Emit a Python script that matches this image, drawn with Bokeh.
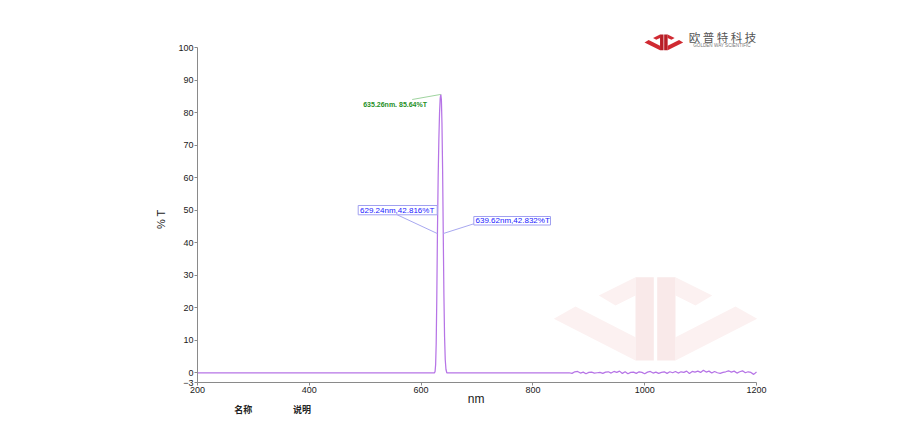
from bokeh.plotting import figure
from bokeh.models import Range1d, FixedTicker, LinearAxis
from bokeh.core.properties import value
from bokeh.embed import file_html
from bokeh.resources import INLINE

# ---------------- data ----------------
base_nm = [200, 300, 400, 500, 600, 624]
base_t = [0.0, 0.0, 0.0, 0.0, 0.0, 0.0]

peak_nm = [625, 626, 627, 628, 629.24, 630.5, 631.8, 633, 634.2, 635.26,
           636.3, 637.3, 638.5, 639.62, 640.8, 642, 643.2, 644.5, 646]
peak_t = [0.4, 2.5, 9.0, 22.0, 42.816, 60.0, 72.0, 80.0, 84.5, 85.64,
          84.0, 77.0, 62.0, 42.832, 24.0, 11.0, 4.0, 1.0, 0.0]

flat_nm = [700, 760, 820, 860]
flat_t = [0.0, 0.0, 0.0, 0.0]

noise_nm = [865, 870, 875, 880, 885, 890, 895, 900, 905, 910, 915, 920, 925,
            930, 935, 940, 945, 950, 955, 960, 965, 970, 975, 980, 985, 990,
            995, 1000, 1005, 1010, 1015, 1020, 1025, 1030, 1035, 1040, 1045,
            1050, 1055, 1060, 1065, 1070, 1075, 1080, 1085, 1090, 1095, 1100,
            1105, 1110, 1115, 1120, 1125, 1130, 1135, 1140, 1145, 1150, 1155,
            1160, 1165, 1170, 1175, 1180, 1185, 1190, 1195, 1200]
noise_t = [0.0, -0.2, 0.3, 0.4, -0.1, 0.2, -0.3, 0.1, 0.2, -0.1, 0.0, 0.1, -0.2,
           0.2, 0.3, -0.1, 0.4, 0.1, 0.5, -0.2, 0.3, -0.3, 0.1, 0.2, -0.2, 0.3,
           0.1, -0.3, 0.2, 0.4, -0.1, 0.2, -0.2, 0.1, 0.3, -0.2, 0.3,
           0.0, 0.4, -0.1, 0.3, 0.1, 0.5, -0.2, 0.4, 0.2, 0.5, 0.1,
           0.8, 0.2, 0.5, -0.1, 0.4, 0.0, -0.2, 0.1, 0.3, 0.6, 0.2,
           0.5, -0.1, 0.3, 0.6, 0.0, 0.3, 0.1, -0.5, 0.2]

x_ticks = [200, 400, 600, 800, 1000, 1200]
y_ticks = [-3, 0, 10, 20, 30, 40, 50, 60, 70, 80, 90, 100]
legend_ticks = [282, 387]
legend_names = ["名称", "说明"]

peak_mark = (635.26, 85.64, "635.26nm. 85.64%T")
left_mark = (629.24, 42.816, "629.24nm,42.816%T")
right_mark = (639.62, 42.832, "639.62nm,42.832%T")

brand_cn = ["欧", "普", "特", "科", "技"]
brand_en = "GOLDEN WAY SCIENTIFIC"

wavelength = base_nm + peak_nm + flat_nm + noise_nm
transmit = base_t + peak_t + flat_t + noise_t

# ---------------- layout helpers (page pixel -> data) ----------------
PX_NM = 0.559
PX_T = 3.25


def nx(px):
    return 200 + (px - 197) / PX_NM


def ty(py):
    return (372.25 - py) / PX_T


FONT = value("Liberation Sans")

p = figure(width=908, height=432,
           x_range=Range1d(200, 200 + 564 / PX_NM),
           y_range=Range1d(-3, -3 + 354 / PX_T),
           output_backend="svg", toolbar_location=None,
           min_border_left=197, min_border_right=147,
           min_border_top=28, min_border_bottom=50)
p.outline_line_color = None
p.xgrid.visible = False
p.ygrid.visible = False
p.background_fill_color = "white"
p.border_fill_color = "white"

# ---------------- logos ----------------
BAR_L = [(85, 6.7), (103.3, 6.7), (103.3, 90), (85, 90)]
ARM_UP_L = [(48.3, 25), (85, 6.7), (85, 25), (65, 35)]
ARM_LOW_L = [(3.3, 48.3), (25, 36), (85, 66.7), (85, 90)]


def mirror(poly):
    return [(210 - u, v) for (u, v) in poly]


def logo(ox, oy, s, bar_col, arm_col):
    xs, ys, cols = [], [], []
    for poly, col in [(ARM_UP_L, arm_col), (ARM_LOW_L, arm_col), (BAR_L, bar_col),
                      (mirror(ARM_UP_L), arm_col), (mirror(ARM_LOW_L), arm_col),
                      (mirror(BAR_L), bar_col)]:
        xs.append([nx(ox + u * s) for (u, v) in poly])
        ys.append([ty(oy + v * s) for (u, v) in poly])
        cols.append(col)
    p.patches(xs, ys, fill_color=cols, line_color=None)


logo(550, 270, 1.0, "#f9e9e9", "#fcf1f1")
logo(643.4, 32.7, 0.19, "#b81e26", "#d02a32")

p.text([nx(694 + 14 * i) for i in range(len(brand_cn))], [ty(36.5)] * len(brand_cn),
       text=brand_cn, text_font=value("Noto Sans CJK SC"),
       text_font_size="11.5px", text_color="#555555", text_align="center",
       text_baseline="middle")
p.text([nx(721.5)], [ty(44.8)], text=[brand_en], text_font=FONT,
       text_font_size="4.6px", text_color="#777777", text_align="center",
       text_baseline="middle")

# ---------------- spectrum ----------------
p.line(wavelength, transmit, line_color="#b674e6", line_width=1.25)

# ---------------- annotations ----------------
# peak (green)
p.segment([nx(411.7)], [ty(99)], [peak_mark[0]], [peak_mark[1]],
          line_color="#9fd49f", line_width=1)
p.text([nx(362.7)], [ty(103.5)], text=[peak_mark[2]], text_font=FONT,
       text_font_size="7px", text_font_style="bold", text_color="#1f8f1f",
       text_align="left", text_baseline="middle")

# half-height left
p.segment([nx(396.7)], [ty(214.3)], [left_mark[0]], [left_mark[1]],
          line_color="#a8a8f0", line_width=1)
p.quad(left=[nx(357.7)], right=[nx(436.7)], top=[ty(205)], bottom=[ty(214.3)],
       fill_color="white", line_color="#a0a0f0", line_width=1)
p.text([nx(359.5)], [ty(209.8)], text=[left_mark[2]], text_font=FONT,
       text_font_size="8px", text_color="#2020ff", text_align="left",
       text_baseline="middle")

# half-height right
p.segment([nx(473.3)], [ty(223.3)], [right_mark[0]], [right_mark[1]],
          line_color="#a8a8f0", line_width=1)
p.quad(left=[nx(473.3)], right=[nx(550)], top=[ty(216)], bottom=[ty(224.5)],
       fill_color="white", line_color="#a0a0f0", line_width=1)
p.text([nx(475)], [ty(220.3)], text=[right_mark[2]], text_font=FONT,
       text_font_size="8px", text_color="#2020ff", text_align="left",
       text_baseline="middle")

# ---------------- axes ----------------
for ax in (p.xaxis[0], p.yaxis[0]):
    ax.axis_line_color = "#8a8a8a"
    ax.major_tick_line_color = "#8a8a8a"
    ax.minor_tick_line_color = None
    ax.major_tick_in = 0
    ax.major_tick_out = 3
    ax.major_label_text_font = "Liberation Sans"
    ax.major_label_text_font_size = "9px"
    ax.major_label_text_color = "#1a1a1a"
    ax.axis_label_text_font = "Liberation Sans"
    ax.axis_label_text_font_style = "normal"
    ax.axis_label_text_color = "#1a1a1a"

p.xaxis.ticker = FixedTicker(ticks=x_ticks)
p.xaxis.bounds = (200, 1200)
p.xaxis.major_label_standoff = 1
# trailing no-break spaces centre the visible label on the bounded axis line
p.xaxis.axis_label = "nm" + "\u00a0" * 2
p.xaxis.axis_label_text_font_size = "12px"
p.xaxis.axis_label_standoff = -4

p.yaxis.ticker = FixedTicker(ticks=y_ticks)
p.yaxis.bounds = (-3, 100)
p.yaxis.major_label_standoff = 1
p.yaxis.axis_label = "% T" + "\u00a0" * 9
p.yaxis.axis_label_text_font_size = "11px"
p.yaxis.axis_label_standoff = 8

names_axis = LinearAxis(ticker=FixedTicker(ticks=legend_ticks),
                        major_label_overrides=dict(zip(legend_ticks, legend_names)),
                        axis_line_color=None, major_tick_line_color=None,
                        minor_tick_line_color=None,
                        major_label_text_font="Noto Sans CJK SC",
                        major_label_text_font_size="9px",
                        major_label_text_font_style="bold",
                        major_label_text_color="#222222",
                        major_label_standoff=-12)
p.add_layout(names_axis, "below")

open("out.html", "w").write(file_html(p, INLINE))
